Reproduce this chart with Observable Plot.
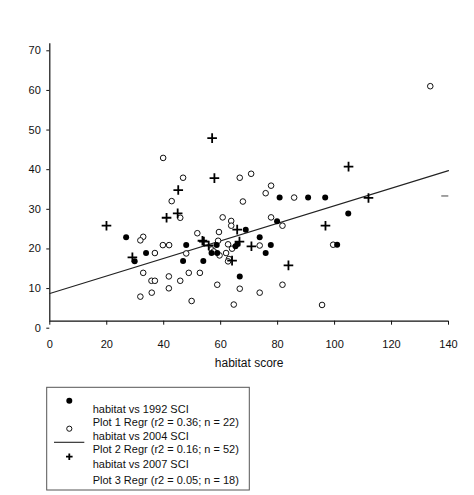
<!DOCTYPE html>
<html>
<head>
<meta charset="utf-8">
<script src="https://cdn.jsdelivr.net/npm/d3@7"></script>
<script src="https://cdn.jsdelivr.net/npm/@observablehq/plot@0.6"></script>
<style>
  body { margin: 0; background: #fff; font-family: "Liberation Sans", Arial, sans-serif; }
  #wrap { position: relative; width: 474px; height: 495px; }
  #legend { position: absolute; left: 0; top: 0; }
</style>
</head>
<body>
<div id="wrap"></div>
<script>
// ---- data ----
const xTicks = [0, 20, 40, 60, 80, 100, 120, 140];
const yTicks = [0, 10, 20, 30, 40, 50, 60, 70];

// habitat vs 1992 SCI (filled circles)
const s1992x = [26.8, 29.8, 33.8, 47.9, 46.8, 53.9, 58.6, 56.8, 58.8, 65.9, 65.2, 68.8, 73.7, 77.6, 75.8, 66.7, 79.8, 80.7, 90.7, 96.7, 104.8, 100.9];
const s1992y = [21.2, 15.1, 17.2, 19.2, 15.2, 15.2, 19.2, 17.2, 17.2, 19.5, 18.9, 23.1, 21.2, 19.2, 17.2, 11.3, 25.2, 31.2, 31.2, 31.2, 27.2, 19.3];

// habitat vs 2004 SCI (open circles)
const s2004x = [39.8, 46.8, 42.8, 45.8, 51.8, 32.8, 31.8, 39.7, 41.9, 36.9, 47.9, 32.8, 41.8, 48.8, 52.7, 35.7, 36.9, 45.8, 41.8, 35.8, 31.8, 49.8, 58.8, 66.7, 70.7, 77.7, 75.8, 85.8, 67.8, 60.7, 63.7, 63.7, 77.7, 81.7, 59.4, 59.1, 56.8, 59.6, 62.6, 64.0, 61.9, 62.9, 73.7, 66.7, 73.7, 81.7, 64.6, 95.6, 99.5, 133.6, 62.6, 57.6];
const s2004y = [41.2, 36.2, 30.3, 26.1, 22.2, 21.3, 20.4, 19.2, 19.2, 17.2, 17.1, 12.2, 11.3, 12.2, 12.2, 10.2, 10.2, 10.2, 8.3, 7.2, 6.2, 5.1, 9.2, 36.2, 37.2, 34.2, 32.3, 31.2, 30.2, 26.2, 25.3, 24.1, 26.2, 24.1, 22.5, 20.3, 18.1, 16.6, 19.4, 18.3, 17.2, 15.7, 19.1, 8.2, 7.2, 9.2, 4.2, 4.1, 19.3, 59.3, 15.1, 17.6];

// habitat vs 2007 SCI (plus)
const s2007x = [57.0, 57.8, 45.1, 41.0, 44.9, 19.9, 29.0, 54.1, 65.8, 66.6, 70.8, 55.8, 64.0, 83.8, 96.8, 104.9, 111.9, 53.6];
const s2007y = [46.2, 36.1, 33.1, 26.1, 27.2, 24.1, 16.1, 20.1, 23.1, 20.1, 18.9, 19.1, 15.3, 14.1, 24.1, 39.0, 31.1, 20.3];

// regression line (Plot 2) and stray segment at the right edge
const regX = [0, 140];
const regY = [7, 38];
const dashX = [137.6, 139.8];
const dashY = [31.6, 31.6];

// legend labels
const legendLabels = [
  "habitat vs 1992 SCI",
  "Plot 1 Regr (r2 = 0.36; n = 22)",
  "habitat vs 2004 SCI",
  "Plot 2 Regr (r2 = 0.16; n = 52)",
  "habitat vs 2007 SCI",
  "Plot 3 Regr (r2 = 0.05; n = 18)"
];

// ---- build tables ----
const zip = (xs, ys) => xs.map((x, i) => ({x, y: ys[i]}));
const d1992 = zip(s1992x, s1992y);
const d2004 = zip(s2004x, s2004y);
const d2007 = zip(s2007x, s2007y);
const reg = zip(regX, regY);
const dash = zip(dashX, dashY);

const chart = Plot.plot({
  width: 474,
  height: 380,
  marginLeft: 49.3,
  marginRight: 26,
  marginTop: 43.3,
  marginBottom: 59.3,
  style: {fontFamily: "'Liberation Sans', Arial, sans-serif", fontSize: "11px", color: "#111", background: "#fff"},
  x: {domain: [0, 140]},
  y: {domain: [0, 70]},
  marks: [
    Plot.axisX({ticks: xTicks, tickSize: 4, tickPadding: 15, label: null, fontSize: 11}),
    Plot.axisY({ticks: yTicks, tickSize: 3, tickPadding: 6, label: null, fontSize: 11, dy: 7}),
    Plot.ruleX([0], {stroke: "#111", strokeWidth: 1.2}),
    Plot.ruleY([0], {stroke: "#111", strokeWidth: 1.2}),
    Plot.line(reg, {x: "x", y: "y", stroke: "#222", strokeWidth: 1.1}),
    Plot.line(dash, {x: "x", y: "y", stroke: "#444", strokeWidth: 1}),
    Plot.dot(d2004, {x: "x", y: "y", r: 2.8, stroke: "#111", strokeWidth: 1, fill: "#fff"}),
    Plot.dot(d1992, {x: "x", y: "y", r: 3, fill: "#000", stroke: "none"}),
    Plot.dot(d2007, {x: "x", y: "y", r: 3.2, symbol: "plus", stroke: "#000", strokeWidth: 1.8}),
    Plot.text(["habitat score"], {frameAnchor: "bottom", dy: 46, fontSize: 12, fill: "#111"})
  ]
});
const wrap = document.getElementById("wrap");
wrap.appendChild(chart);

// ---- legend (below the chart area, drawn with d3) ----
const ns = "http://www.w3.org/2000/svg";
const leg = d3.select(wrap).append("svg")
  .attr("id", "legend")
  .attr("width", 474).attr("height", 495)
  .style("pointer-events", "none");
leg.append("rect").attr("x", 46.7).attr("y", 387.3).attr("width", 202.6).attr("height", 102.7)
  .attr("fill", "none").attr("stroke", "#555").attr("stroke-width", 1);
leg.append("circle").attr("cx", 69.3).attr("cy", 400.7).attr("r", 3).attr("fill", "#000");
leg.append("circle").attr("cx", 69.3).attr("cy", 428.7).attr("r", 2.6).attr("fill", "#fff").attr("stroke", "#111");
leg.append("line").attr("x1", 54).attr("x2", 84.3).attr("y1", 442.3).attr("y2", 442.3).attr("stroke", "#222").attr("stroke-width", 1.1);
leg.append("path").attr("d", "M66,456.7H72.6M69.3,453.4V460").attr("stroke", "#000").attr("stroke-width", 1.8);
const textY = [409, 422.3, 436, 449.3, 463.7, 480];
leg.selectAll("text.l").data(legendLabels).join("text")
  .attr("x", 92.7).attr("y", (d, i) => textY[i]).attr("dy", "0.35em")
  .attr("font-family", "'Liberation Sans', Arial, sans-serif").attr("font-size", 11).attr("fill", "#111")
  .text(d => d);
</script>
</body>
</html>
